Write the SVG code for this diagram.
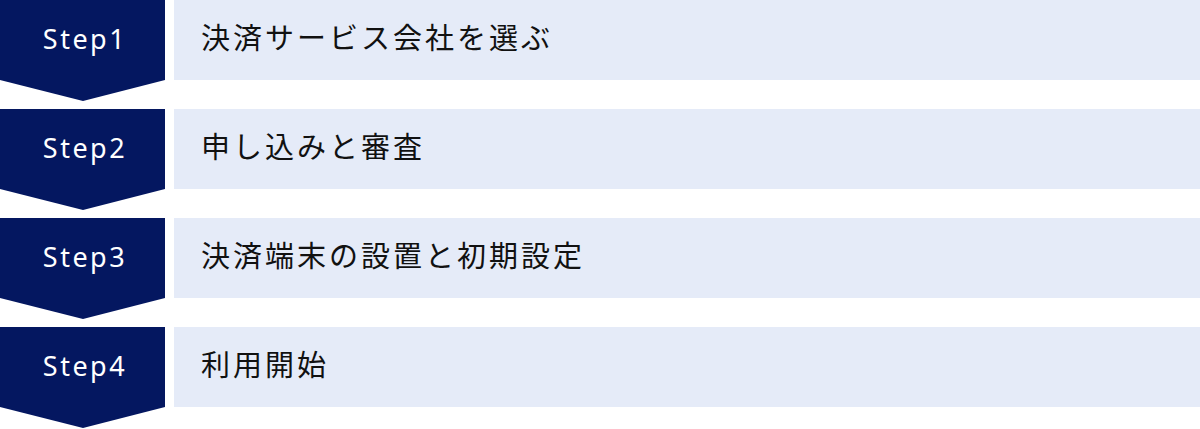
<svg xmlns="http://www.w3.org/2000/svg" width="1200" height="429" viewBox="0 0 1200 429">
<style>
.step{fill:#041760}
.bar{fill:#e5ebf8}
.st{font-family:"Noto Sans","Open Sans",sans-serif;font-size:27px;fill:#ffffff;text-anchor:middle;letter-spacing:2.5px}
.tx{font-family:"Noto Sans CJK JP","Noto Sans",sans-serif;font-size:29px;fill:#111111;letter-spacing:3px}
</style>
<rect width="1200" height="429" fill="#ffffff"/>
<g id="step1">
<polygon class="step" points="0,0 165,0 165,80 83,101 0,80"/>
<rect class="bar" x="174" y="0" width="1026" height="80"/>
<text class="st" x="85" y="49">Step1</text>
<text class="tx" x="201" y="49">決済サービス会社を選ぶ</text>
</g>
<g id="step2">
<polygon class="step" points="0,109 165,109 165,189 83,210 0,189"/>
<rect class="bar" x="174" y="109" width="1026" height="80"/>
<text class="st" x="85" y="158">Step2</text>
<text class="tx" x="201" y="158">申し込みと審査</text>
</g>
<g id="step3">
<polygon class="step" points="0,218 165,218 165,298 83,319 0,298"/>
<rect class="bar" x="174" y="218" width="1026" height="80"/>
<text class="st" x="85" y="267">Step3</text>
<text class="tx" x="201" y="267">決済端末の設置と初期設定</text>
</g>
<g id="step4">
<polygon class="step" points="0,327 165,327 165,407 83,428 0,407"/>
<rect class="bar" x="174" y="327" width="1026" height="80"/>
<text class="st" x="85" y="376">Step4</text>
<text class="tx" x="201" y="376">利用開始</text>
</g>
<g id="connectors"></g>
</svg>
